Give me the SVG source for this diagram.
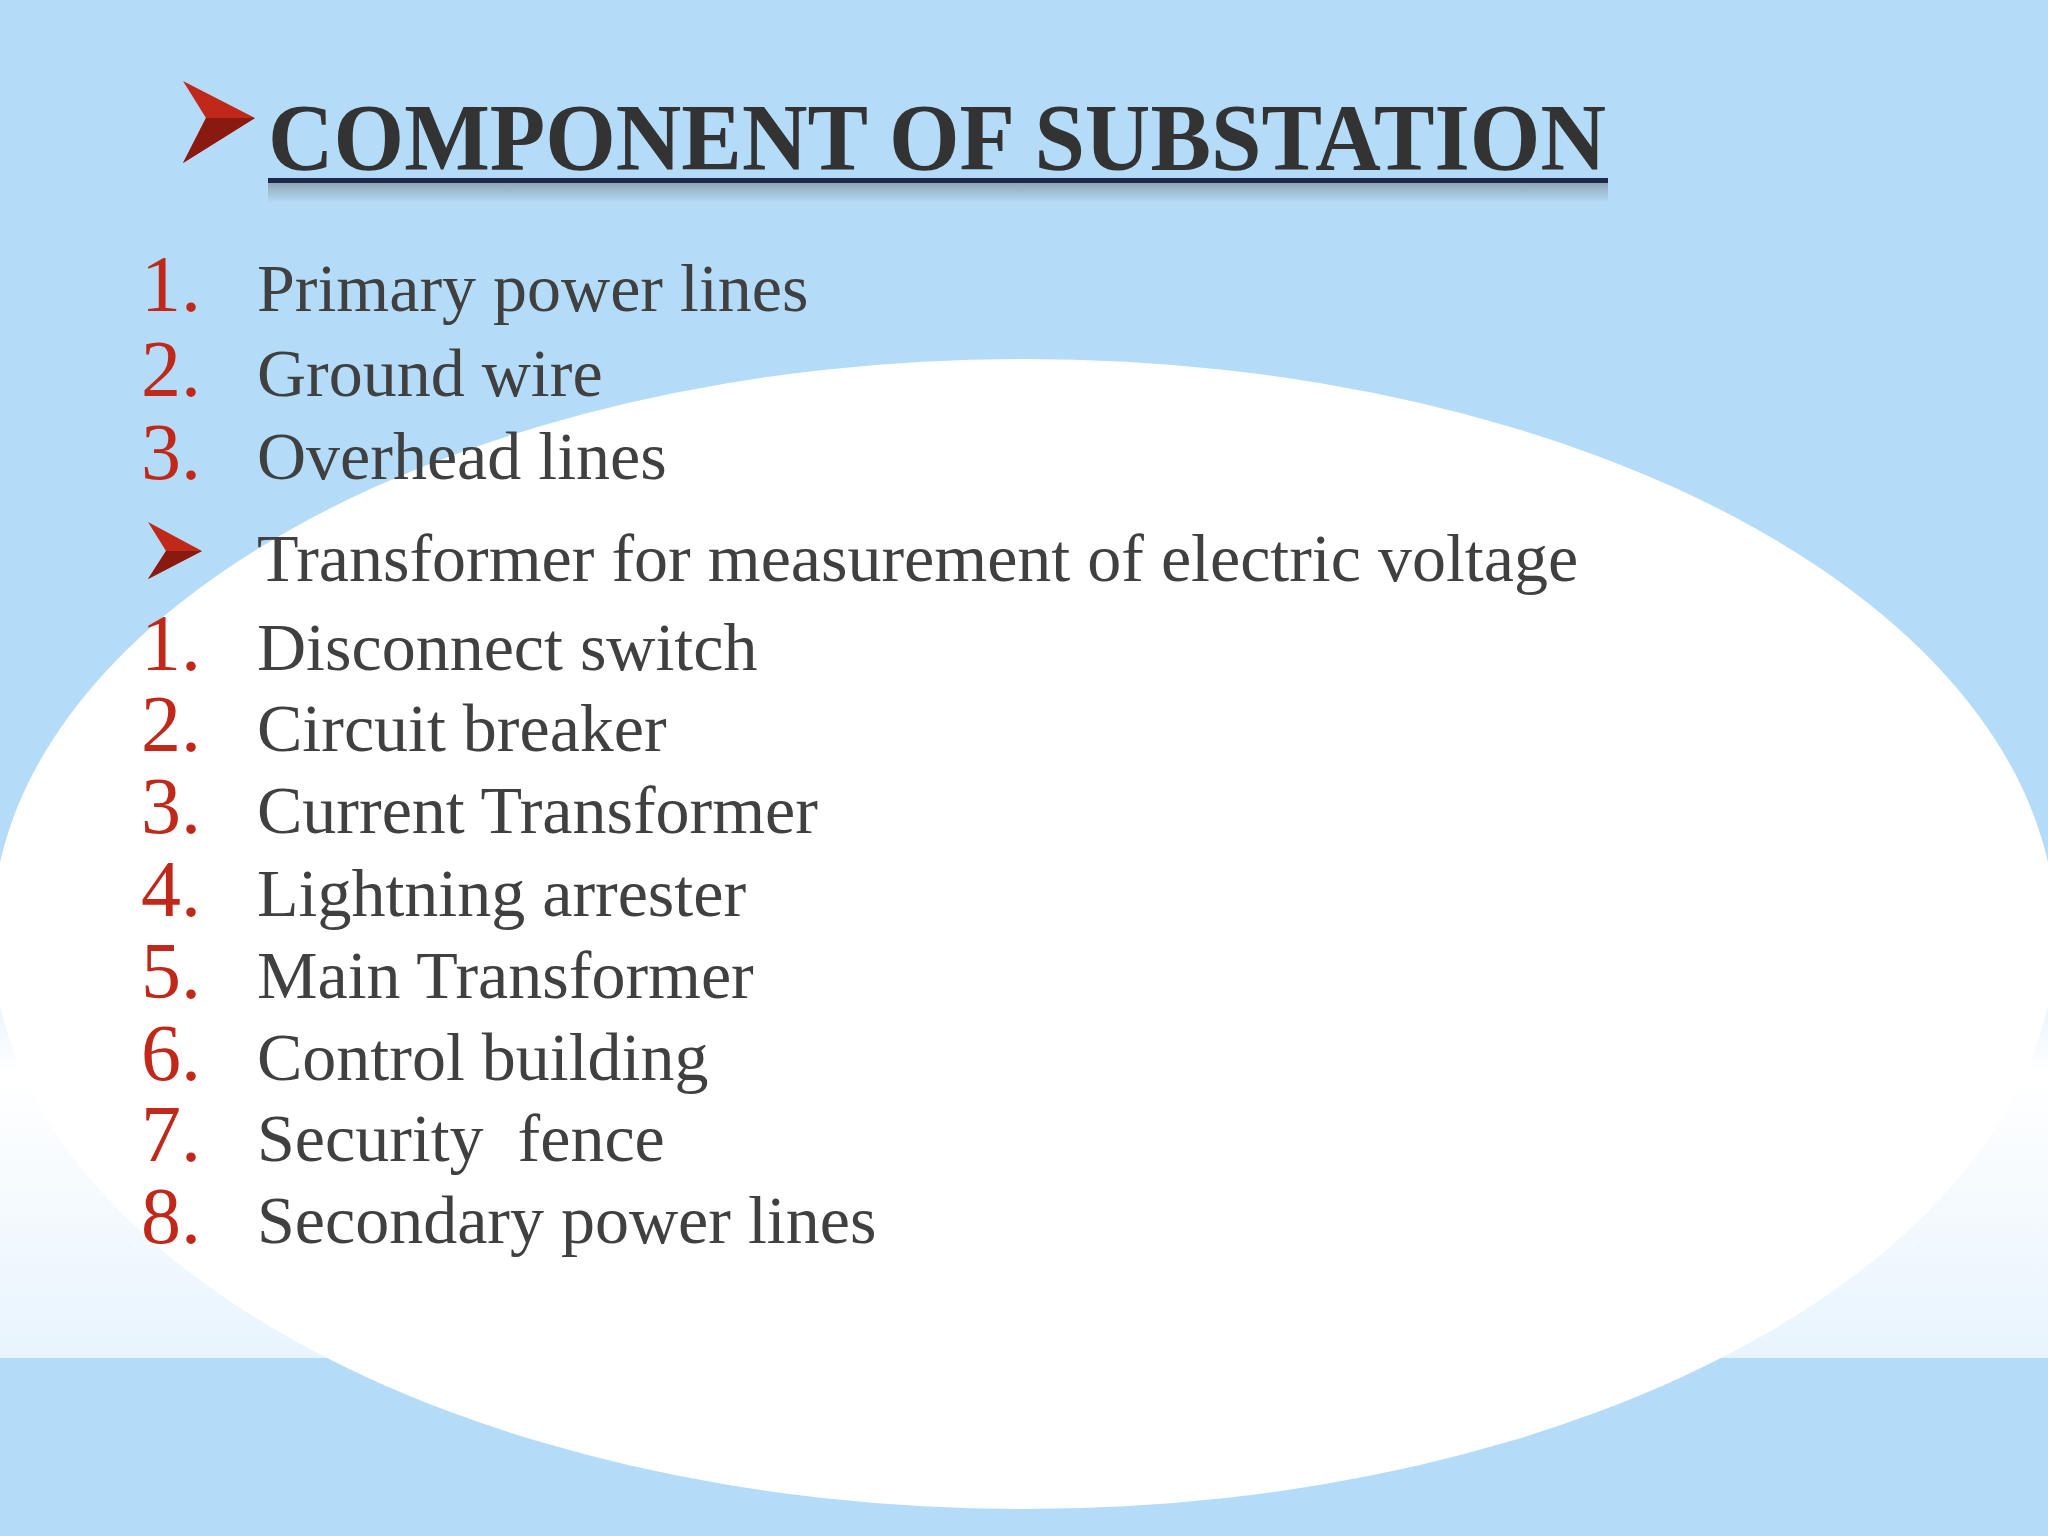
<svg xmlns="http://www.w3.org/2000/svg" width="2048" height="1536" viewBox="0 0 2048 1536">
<defs>
<linearGradient id="band" x1="0" y1="0" x2="0" y2="1">
<stop offset="0" stop-color="#b4dcf8"/>
<stop offset="0.45" stop-color="#ffffff"/>
<stop offset="1" stop-color="#e8f4fd"/>
</linearGradient>
<linearGradient id="refl" x1="0" y1="0" x2="0" y2="1">
<stop offset="0" stop-color="#666" stop-opacity="0.45"/>
<stop offset="1" stop-color="#666" stop-opacity="0"/>
</linearGradient>
</defs>
<style>
.t{font-family:"Liberation Serif",serif;font-size:68px;fill:#404040}
.n{font-family:"Liberation Serif",serif;font-size:80px;fill:#c0281a}
</style>
<rect width="2048" height="1536" fill="#b4dcf8"/>
<rect x="0" y="840" width="2048" height="518" fill="url(#band)"/>
<ellipse cx="1024" cy="934" rx="1032" ry="575" fill="#ffffff"/>
<g id="title">
<polygon points="183,81 255,118 183,163 206,118" fill="#c0281a"/>
<polygon points="206,118 255,118 183,163" fill="#8a1a10"/>
<text x="268" y="170" font-family="Liberation Serif,serif" font-weight="bold" font-size="96" fill="#333" textLength="1338" lengthAdjust="spacingAndGlyphs">COMPONENT OF SUBSTATION</text>
<rect x="268" y="178" width="1340" height="5" fill="#1f2a4a"/>
<rect x="268" y="183" width="1340" height="20" fill="url(#refl)"/>
</g>
<g id="list">
<text class="n" x="141" y="311">1.</text><text class="t" x="257" y="311">Primary power lines</text>
<text class="n" x="141" y="396">2.</text><text class="t" x="257" y="396">Ground wire</text>
<text class="n" x="141" y="479">3.</text><text class="t" x="257" y="479">Overhead lines</text>
<polygon points="148,522 202,551 148,579 166,551" fill="#c0281a"/>
<polygon points="166,551 202,551 148,579" fill="#8a1a10"/>
<text class="t" x="257" y="581">Transformer for measurement of electric voltage</text>
<text class="n" x="141" y="670">1.</text><text class="t" x="257" y="670">Disconnect switch</text>
<text class="n" x="141" y="751">2.</text><text class="t" x="257" y="751">Circuit breaker</text>
<text class="n" x="141" y="833">3.</text><text class="t" x="257" y="833">Current Transformer</text>
<text class="n" x="141" y="916">4.</text><text class="t" x="257" y="916">Lightning arrester</text>
<text class="n" x="141" y="998">5.</text><text class="t" x="257" y="998">Main Transformer</text>
<text class="n" x="141" y="1080">6.</text><text class="t" x="257" y="1080">Control building</text>
<text class="n" x="141" y="1161">7.</text><text class="t" x="257" y="1161" xml:space="preserve">Security  fence</text>
<text class="n" x="141" y="1243">8.</text><text class="t" x="257" y="1243">Secondary power lines</text>
</g>
</svg>
